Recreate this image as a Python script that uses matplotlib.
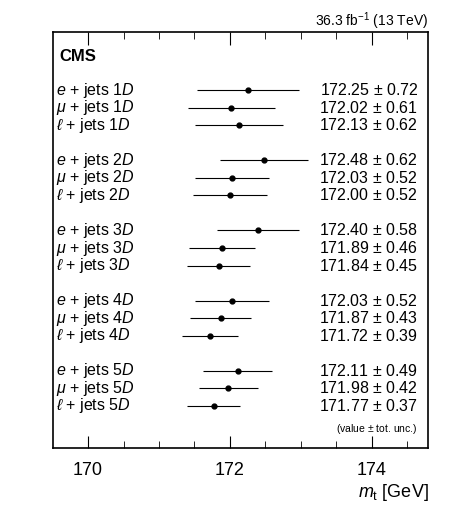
import matplotlib
matplotlib.use("Agg")
import matplotlib.pyplot as plt

plt.rcParams['font.family'] = ['Liberation Sans', 'DejaVu Sans']
plt.rcParams['mathtext.fontset'] = 'custom'
plt.rcParams['mathtext.rm'] = 'Liberation Sans'
plt.rcParams['mathtext.it'] = 'Liberation Sans:italic'

channels = ["$e$", "$\\mu$", "$\\ell$"]
methods = ["1D", "2D", "3D", "4D", "5D"]
values = [
    [172.25, 172.02, 172.13],
    [172.48, 172.03, 172.00],
    [172.40, 171.89, 171.84],
    [172.03, 171.87, 171.72],
    [172.11, 171.98, 171.77],
]
errors = [
    [0.72, 0.61, 0.62],
    [0.62, 0.52, 0.52],
    [0.58, 0.46, 0.45],
    [0.52, 0.43, 0.39],
    [0.49, 0.42, 0.37],
]

fig = plt.figure(figsize=(4.74, 5.05), dpi=100)
ax = fig.add_axes([0.111, 0.113, 0.793, 0.824])

for g, m in enumerate(methods):
    for r, ch in enumerate(channels):
        y = g * 4 + r
        v = values[g][r]
        e = errors[g][r]
        ax.errorbar(v, y, xerr=e, fmt='o', color='black', ms=3.5,
                    elinewidth=0.8, capsize=0)
        ax.text(169.55, y, ch + " + jets $\\mathit{" + m + "}$", fontsize=11.5,
                va='center', ha='left')
        ax.text(174.65, y, "%.2f $\\pm$ %.2f" % (v, e), fontsize=11.5,
                va='center', ha='right')

ax.text(174.65, 19.3, "(value $\\pm$ tot. unc.)", fontsize=7.5,
        va='center', ha='right')
ax.text(169.6, -1.9, "CMS", fontsize=12, fontweight='bold', va='center')

ax.set_xlim(169.5, 174.8)
ax.set_ylim(20.4, -3.33)
ax.set_yticks([])
ax.set_xticks([170, 172, 174])
ax.set_xticks([170.5, 171, 171.5, 172.5, 173, 173.5, 174.5], minor=True)
ax.tick_params(axis='x', which='major', direction='in', top=True, length=9,
               labelsize=13, pad=10)
ax.tick_params(axis='x', which='minor', direction='in', top=True, length=5)
ax.set_xlabel("$m_\\mathrm{t}$ [GeV]", fontsize=13, loc='right', labelpad=2)
ax.set_title("36.3 fb$^{-1}$ (13 TeV)", fontsize=10, loc='right', pad=4)
for s in ax.spines.values():
    s.set_linewidth(1.2)

fig.savefig("out.png", dpi=100)
